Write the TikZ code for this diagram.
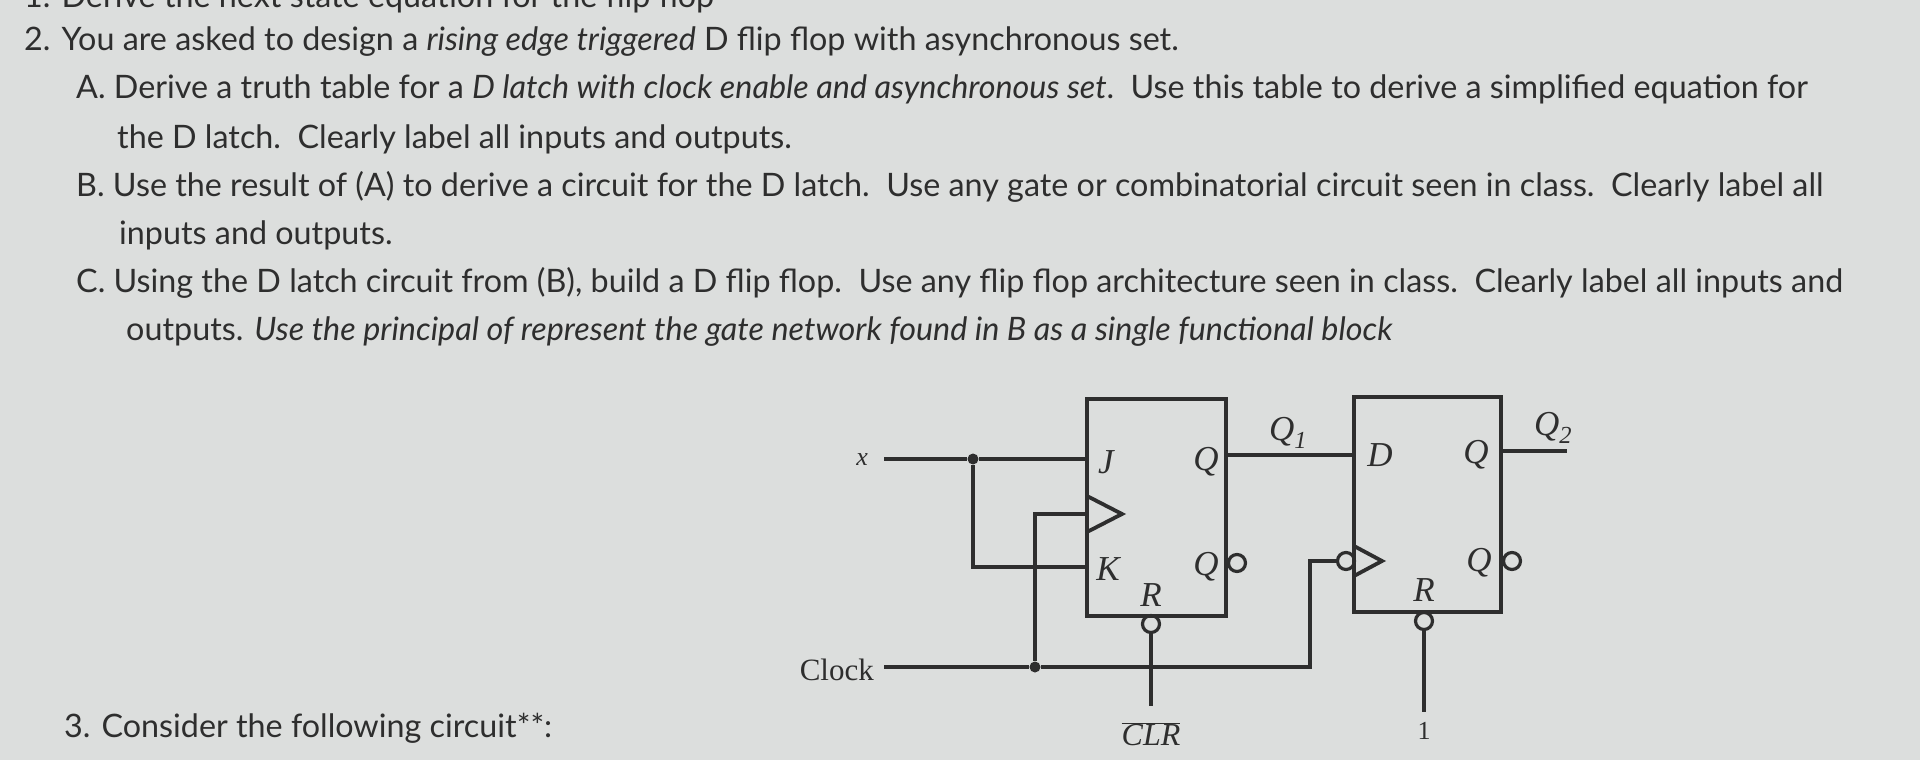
\documentclass[tikz,border=0pt]{standalone}
\usepackage{fontspec}
\setmainfont{Lato}
\newfontfamily\circfont{Liberation Serif}
\definecolor{bg}{HTML}{DCDEDD}
\definecolor{ink}{HTML}{2E2E2E}
\begin{document}
\begin{tikzpicture}[x=1pt,y=-1pt,
  txt/.style={anchor=base west,inner sep=0,text=ink,font=\fontsize{32.3}{34}\selectfont},
  wire/.style={line width=3.6pt,draw=ink},
  ff/.style={draw=ink,line width=3.8pt},
  cl/.style={text=ink,font=\circfont\itshape\fontsize{35}{37}\selectfont,inner sep=0},
  bub/.style={circle,draw=ink,line width=3.2pt,minimum size=17pt,inner sep=0},
  dot/.style={circle,fill=ink,minimum size=11pt,inner sep=0}]
\fill[bg] (0,0) rectangle (1920,760);
\useasboundingbox (0,0) rectangle (1920,760);
\begin{scope}
\clip (0,0) rectangle (1920,760);
\node[txt] (t0) at (24,8) {1. Derive the next state equation for the flip flop};
\end{scope}
\node[txt] (t1) at (24,51) {2. You are asked to design a \textit{rising edge triggered} D flip flop with asynchronous set.};
\node[txt] (t2) at (76,99) {A. Derive a truth table for a \textit{D latch with clock enable and asynchronous set}.\ \ Use this table to derive a simplified equation for};
\node[txt] (t3) at (117,148) {the D latch.\ \ Clearly label all inputs and outputs.};
\node[txt] (t4) at (76,196) {B. Use the result of (A) to derive a circuit for the D latch.\ \ Use any gate or combinatorial circuit seen in class.\ \ Clearly label all};
\node[txt] (t5) at (119,244) {inputs and outputs.};
\node[txt] (t6) at (76,292) {C. Using the D latch circuit from (B), build a D flip flop.\ \ Use any flip flop architecture seen in class.\ \ Clearly label all inputs and};
\node[txt] (t7) at (126,340) {outputs. \textit{Use the principal of represent the gate network found in B as a single functional block}};
\node[txt] (t8) at (64,737) {3. Consider the following circuit**:};
% flip-flops
\draw[ff] (1087,399) rectangle (1226,616);
\draw[ff] (1354,397) rectangle (1501,612);
\coordinate (jkJ) at (1087,459);
\coordinate (jkK) at (1087,567);
\coordinate (jkC) at (1087,514);
\draw[ff] (1087,496) -- (1122,514) -- (1087,532);
\draw[ff] (1354,546) -- (1382,561) -- (1354,576);
\node[bub] (dclk) at (1346,561) {};
\node[cl] (lJ) at (1106,462) {J};
\node[cl] (lQa) at (1206,462) {Q};
\node[cl] (lK) at (1108,569) {K};
\node[cl] (lQb) at (1206,567) {Q};
\node[bub] (qb1) at (1237,563) {};
\node[cl] (lR1) at (1151,595) {R};
\node[bub] (r1) at (1151,624) {};
\node[cl] (lD) at (1380,455) {D};
\node[cl] (lQc) at (1476,455) {Q};
\node[cl] (lQd) at (1479,563) {Q};
\node[bub] (qb2) at (1512,561) {};
\node[cl] (lR2) at (1424,590) {R};
\node[bub] (r2) at (1424,621) {};
% inputs
\node[cl,font=\circfont\itshape\fontsize{26}{28}\selectfont,anchor=east] (lx) at (868,460) {x};
\node[cl,font=\circfont\fontsize{31}{33}\selectfont,anchor=east] (lclk) at (874,670) {Clock};
\coordinate (xin) at (884,459);
\coordinate (cin) at (884,667);
\node[dot] (jx) at (973,459) {};
\node[dot] (jc) at (1035,667) {};
\draw[wire] (xin) -- (jx) -- (jkJ);
\draw[wire] (jx) |- (jkK);
\draw[wire] (cin) -- (jc) -- (1310,667) |- (dclk);
\draw[wire] (jc) |- (jkC);
\coordinate (q1o) at (1226,455);
\draw[wire] (q1o) -- (1354,455);
\node[cl] (lq1) at (1288,433) {Q\textsubscript{\itshape 1}};
\draw[wire] (1501,451) -- (1567,451);
\node[cl] (lq2) at (1553,428) {Q\textsubscript{\itshape 2}};
\coordinate (clrend) at (1151,706);
\draw[wire] (r1) -- (clrend);
\node[cl,font=\circfont\itshape\fontsize{32}{34}\selectfont] (lclr) at (1151,734) {$\overline{\mbox{\itshape CLR}}$};
\coordinate (oneend) at (1424,712);
\draw[wire] (r2) -- (oneend);
\node[cl,font=\circfont\fontsize{26}{28}\selectfont] (lone) at (1424,731) {1};
\end{tikzpicture}
\end{document}
